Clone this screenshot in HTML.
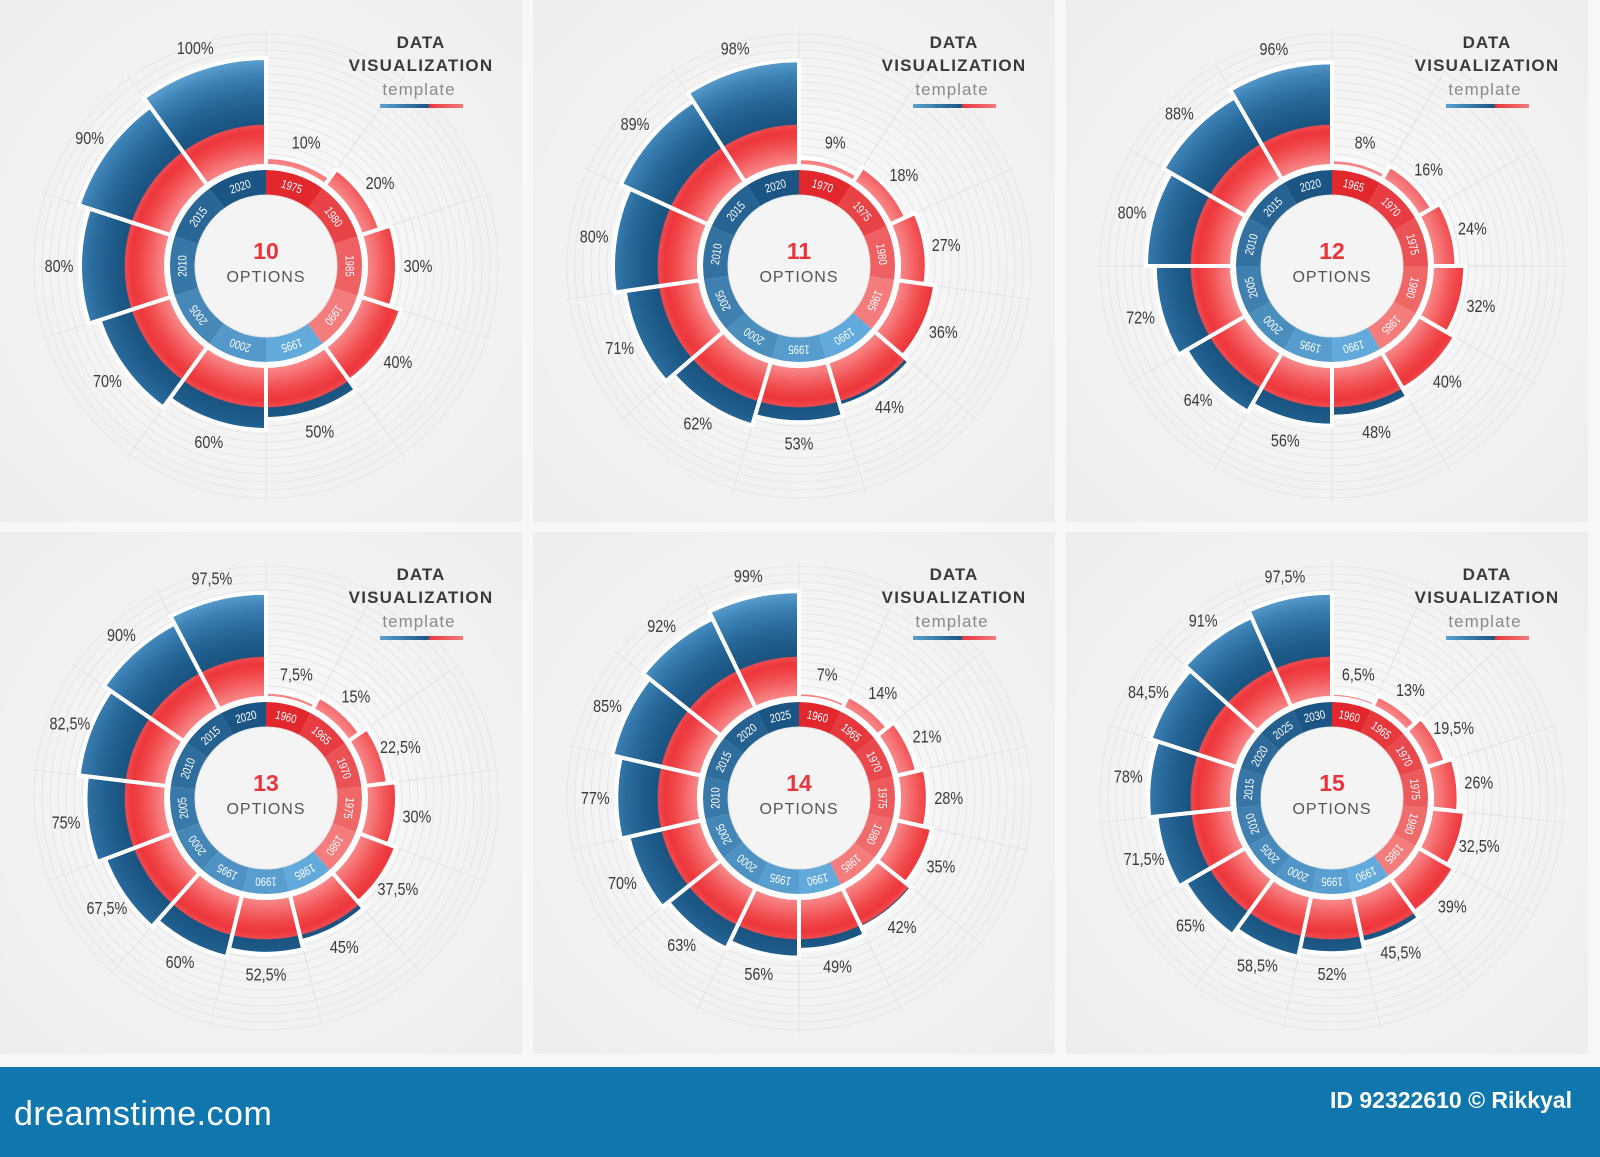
<!DOCTYPE html>
<html><head><meta charset="utf-8">
<style>
html,body{margin:0;padding:0;width:1600px;height:1157px;overflow:hidden;background:#f7f7f7;}
svg{display:block}
</style></head>
<body>
<svg id="s" width="1600" height="1157" viewBox="0 0 1600 1157" xmlns="http://www.w3.org/2000/svg">
<defs>
<radialGradient id="pbg" cx="50%" cy="50%" r="70%">
<stop offset="0" stop-color="#fbfbfb"/><stop offset="1" stop-color="#ededed"/>
</radialGradient>
<linearGradient id="tbar" x1="0" x2="1" y1="0" y2="0">
<stop offset="0" stop-color="#5aa0d2"/><stop offset="0.38" stop-color="#2f6f9f"/><stop offset="0.58" stop-color="#1b5582"/>
<stop offset="0.6" stop-color="#e8383e"/><stop offset="1" stop-color="#f47a7c"/>
</linearGradient>
</defs>
<g id="root"></g>
<rect x="0" y="1067" width="1600" height="90" fill="#0f77ae"/>
<text x="14" y="1125" font-family="Liberation Sans, sans-serif" font-size="34" fill="#fff" letter-spacing="0.5">dreamstime.com</text>
<text x="1572" y="1108" text-anchor="end" font-family="Liberation Sans, sans-serif" font-weight="bold" font-size="23" fill="#fff">ID 92322610 © Rikkyal</text>
</svg>
<script>
(function(){
var NS="http://www.w3.org/2000/svg";
var root=document.getElementById('root');
var defs=document.querySelector('defs');
function el(t,a,p){var e=document.createElementNS(NS,t);for(var k in a)e.setAttribute(k,a[k]);(p||root).appendChild(e);return e;}
function pt(cx,cy,r,a){a=a*Math.PI/180;return [cx+r*Math.sin(a),cy-r*Math.cos(a)];}
function sector(cx,cy,r0,r1,a0,a1){
  var p0=pt(cx,cy,r1,a0),p1=pt(cx,cy,r1,a1),p2=pt(cx,cy,r0,a1),p3=pt(cx,cy,r0,a0);
  var la=(a1-a0)>180?1:0;
  return "M"+p0+" A"+r1+","+r1+" 0 "+la+" 1 "+p1+" L"+p2+" A"+r0+","+r0+" 0 "+la+" 0 "+p3+"Z";
}
function lerp(c1,c2,t){
  var a=parseInt(c1.slice(1),16),b=parseInt(c2.slice(1),16);
  var r=Math.round(((a>>16)&255)*(1-t)+((b>>16)&255)*t),g=Math.round(((a>>8)&255)*(1-t)+((b>>8)&255)*t),bl=Math.round((a&255)*(1-t)+(b&255)*t);
  return "rgb("+r+","+g+","+bl+")";
}
var panels=[
 {n:10,y0:1975,p:["10%","20%","30%","40%","50%","60%","70%","80%","90%","100%"]},
 {n:11,y0:1970,p:["9%","18%","27%","36%","44%","53%","62%","71%","80%","89%","98%"]},
 {n:12,y0:1965,p:["8%","16%","24%","32%","40%","48%","56%","64%","72%","80%","88%","96%"]},
 {n:13,y0:1960,p:["7,5%","15%","22,5%","30%","37,5%","45%","52,5%","60%","67,5%","75%","82,5%","90%","97,5%"]},
 {n:14,y0:1960,p:["7%","14%","21%","28%","35%","42%","49%","56%","63%","70%","77%","85%","92%","99%"]},
 {n:15,y0:1960,p:["6,5%","13%","19,5%","26%","32,5%","39%","45,5%","52%","58,5%","65%","71,5%","78%","84,5%","91%","97,5%"]}
];
var cxs=[266,799,1332],cys=[266,798];
panels.forEach(function(P,k){
  var col=k%3,row=Math.floor(k/3);
  var cx=cxs[col],cy=cys[row];
  el('rect',{x:col*533,y:row*532,width:522,height:522,fill:'url(#pbg)'});
  var gid='g'+k;
  var g=el('radialGradient',{id:gid,gradientUnits:'userSpaceOnUse',cx:cx,cy:cy,r:210},defs);
  var stops=[[0.47,'#f99090'],[0.52,'#f67375'],[0.56,'#f35a5c'],[0.6,'#f04548'],[0.64,'#ed363b'],[0.67,'#f04a4e'],
             [0.675,'#1a5380'],[0.75,'#1f5d8c'],[0.83,'#2b6d9f'],[0.91,'#3d82b6'],[1,'#62a6d6']];
  stops.forEach(function(s){el('stop',{offset:s[0],'stop-color':s[1]},g);});
  var n=P.n,step=360/n;
  for(var r=104;r<=232;r+=8) el('circle',{cx:cx,cy:cy,r:r,fill:'none',stroke:'#e6e6e6','stroke-width':1});
  for(var i=0;i<n;i++){var a=pt(cx,cy,100,i*step),b=pt(cx,cy,236,i*step);
    el('line',{x1:a[0],y1:a[1],x2:b[0],y2:b[1],stroke:'#e3e3e3','stroke-width':1});}
  var half=Math.floor(n/2)-1;
  for(var i=0;i<n;i++){
    var pct=parseFloat(P.p[i].replace(',','.'));
    var ro=98+1.1*pct;
    var a0=i*step,a1=(i+1)*step;
    if(i<half && ro>141) ro=Math.min(ro,146);
    el('path',{d:sector(cx,cy,100,ro,a0,a1),fill:'url(#'+gid+')',stroke:'#fff','stroke-width':4,'stroke-linejoin':'miter'});
    var lp=pt(cx,cy,ro+21,(a0+a1)/2);
    var t=el('text',{x:lp[0],y:lp[1]+6,'text-anchor':'middle','font-family':'Liberation Sans, sans-serif','font-size':18,fill:'#3a3a3a',transform:'translate('+lp[0]+' 0) scale(0.8 1) translate('+(-lp[0])+' 0)'});
    t.textContent=P.p[i];
    var c;
    var nr=half;
    if(i<nr){c=lerp('#e2272d','#f47c7c',nr>1?i/(nr-1):0);}
    else{var nb=n-nr;c=lerp('#62aadc','#1b5583',nb>1?(i-nr)/(nb-1):0);}
    el('path',{d:sector(cx,cy,71,96,a0,a1),fill:c});
    var mid=(a0+a1)/2,yp=pt(cx,cy,83.5,mid);
    var yt=el('text',{x:yp[0],y:yp[1]+4,'text-anchor':'middle','font-family':'Liberation Sans, sans-serif','font-size':12,fill:'#fff',
      transform:'rotate('+mid+' '+yp[0]+' '+yp[1]+') translate('+yp[0]+' 0) scale(0.8 1) translate('+(-yp[0])+' 0)'});
    yt.textContent=P.y0+5*i;
  }
  el('circle',{cx:cx,cy:cy,r:98,fill:'none',stroke:'#fff','stroke-width':4});
  el('circle',{cx:cx,cy:cy,r:71,fill:'#f4f4f4',stroke:'#e6e6e6','stroke-width':1});
  var t1=el('text',{x:cx,y:cy-7,'text-anchor':'middle','font-family':'Liberation Sans, sans-serif','font-weight':'bold','font-size':23,fill:'#e8343a'});t1.textContent=n;
  var t2=el('text',{x:cx,y:cy+16,'text-anchor':'middle','font-family':'Liberation Sans, sans-serif','font-size':16,fill:'#555','letter-spacing':1});t2.textContent='OPTIONS';
  var tx=cx+155,ty=cy-266;
  var a=el('text',{x:tx,y:ty+48,'text-anchor':'middle','font-family':'Liberation Sans, sans-serif','font-weight':'bold','font-size':17,fill:'#3a3a3a','letter-spacing':1});a.textContent='DATA';
  var b=el('text',{x:tx,y:ty+71,'text-anchor':'middle','font-family':'Liberation Sans, sans-serif','font-weight':'bold','font-size':17,fill:'#3a3a3a','letter-spacing':1.2});b.textContent='VISUALIZATION';
  var c2=el('text',{x:tx-2,y:ty+95,'text-anchor':'middle','font-family':'Liberation Sans, sans-serif','font-size':17,fill:'#8a8a8a','letter-spacing':1});c2.textContent='template';
  el('rect',{x:tx-41,y:ty+104,width:83,height:4,fill:'url(#tbar)'});
});
})();
</script>
</body></html>
